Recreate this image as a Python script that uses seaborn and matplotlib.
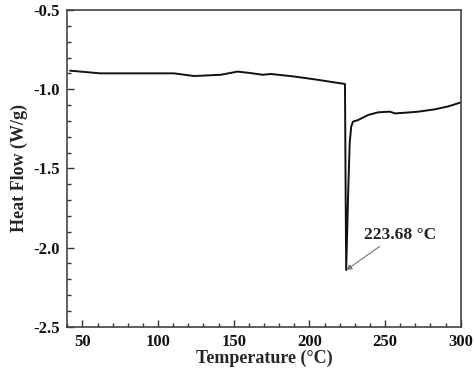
import matplotlib
matplotlib.use("Agg")
import matplotlib.pyplot as plt
from matplotlib.ticker import MultipleLocator, FormatStrFormatter
import seaborn as sns
import pandas as pd

# DSC curve
temperature = [41.8, 50, 61.7, 80, 110.4, 123.7, 141.4, 152.5, 160, 169.1, 174.6,
               190, 205, 215, 223.5, 223.9, 224.3, 225.6, 226.6, 227.6, 228.8,
               232.1, 238.8, 245.4, 253.2, 256.5, 264, 272, 283, 292, 299.6]
heat_flow = [-0.883, -0.89, -0.90, -0.90, -0.90, -0.917, -0.909, -0.889, -0.897, -0.909, -0.904,
             -0.92, -0.94, -0.955, -0.967, -1.6, -2.142, -1.66, -1.342, -1.237, -1.205,
             -1.195, -1.163, -1.146, -1.142, -1.153, -1.148, -1.142, -1.127, -1.108, -1.085]
peak_label = "223.68 \u00b0C"
peak_point = (224.3, -2.142)

df = pd.DataFrame({"Temperature": temperature, "HeatFlow": heat_flow})

sns.set_style("ticks")
plt.rcParams["font.family"] = ["Liberation Serif", "DejaVu Serif"]
plt.rcParams["font.weight"] = "bold"

fig, ax = plt.subplots(figsize=(4.74, 3.84), dpi=100)
fig.subplots_adjust(left=0.142, right=0.972, top=0.974, bottom=0.149)

sns.lineplot(data=df, x="Temperature", y="HeatFlow", ax=ax, color="#111111",
             linewidth=1.4, sort=False)

# peak label with thin grey arrow
ax.annotate(peak_label, xy=peak_point, xytext=(260, -1.972),
            fontsize=12.5, fontweight="bold", ha="center", va="bottom", color="#222222",
            arrowprops=dict(arrowstyle="-|>", color="#777777", lw=0.8, relpos=(0.28, 0),
                            shrinkA=0, shrinkB=0, mutation_scale=8))

ax.set_xlim(40, 300)
ax.set_ylim(-2.5, -0.5)
ax.xaxis.set_major_locator(MultipleLocator(50))
ax.xaxis.set_minor_locator(MultipleLocator(10))
ax.yaxis.set_major_locator(MultipleLocator(0.5))
ax.yaxis.set_minor_locator(MultipleLocator(0.1))
ax.yaxis.set_major_formatter(FormatStrFormatter("%.1f"))
ax.tick_params(which="both", direction="in", top=False, right=False,
               labelsize=12, width=1.0, colors="#333333", labelcolor="#111111")
ax.tick_params(which="major", length=5, pad=5)
ax.tick_params(which="minor", length=3)
for lab in ax.get_xticklabels() + ax.get_yticklabels():
    lab.set_fontweight("bold")

ax.set_xlabel("Temperature (\u00b0C)", fontsize=13, fontweight="bold", labelpad=0)
ax.set_ylabel("Heat Flow (W/g)", fontsize=13, fontweight="bold", labelpad=4)

for s in ax.spines.values():
    s.set_visible(True)
    s.set_linewidth(1.2)
    s.set_color("#444444")

fig.savefig("out.png", dpi=100)
